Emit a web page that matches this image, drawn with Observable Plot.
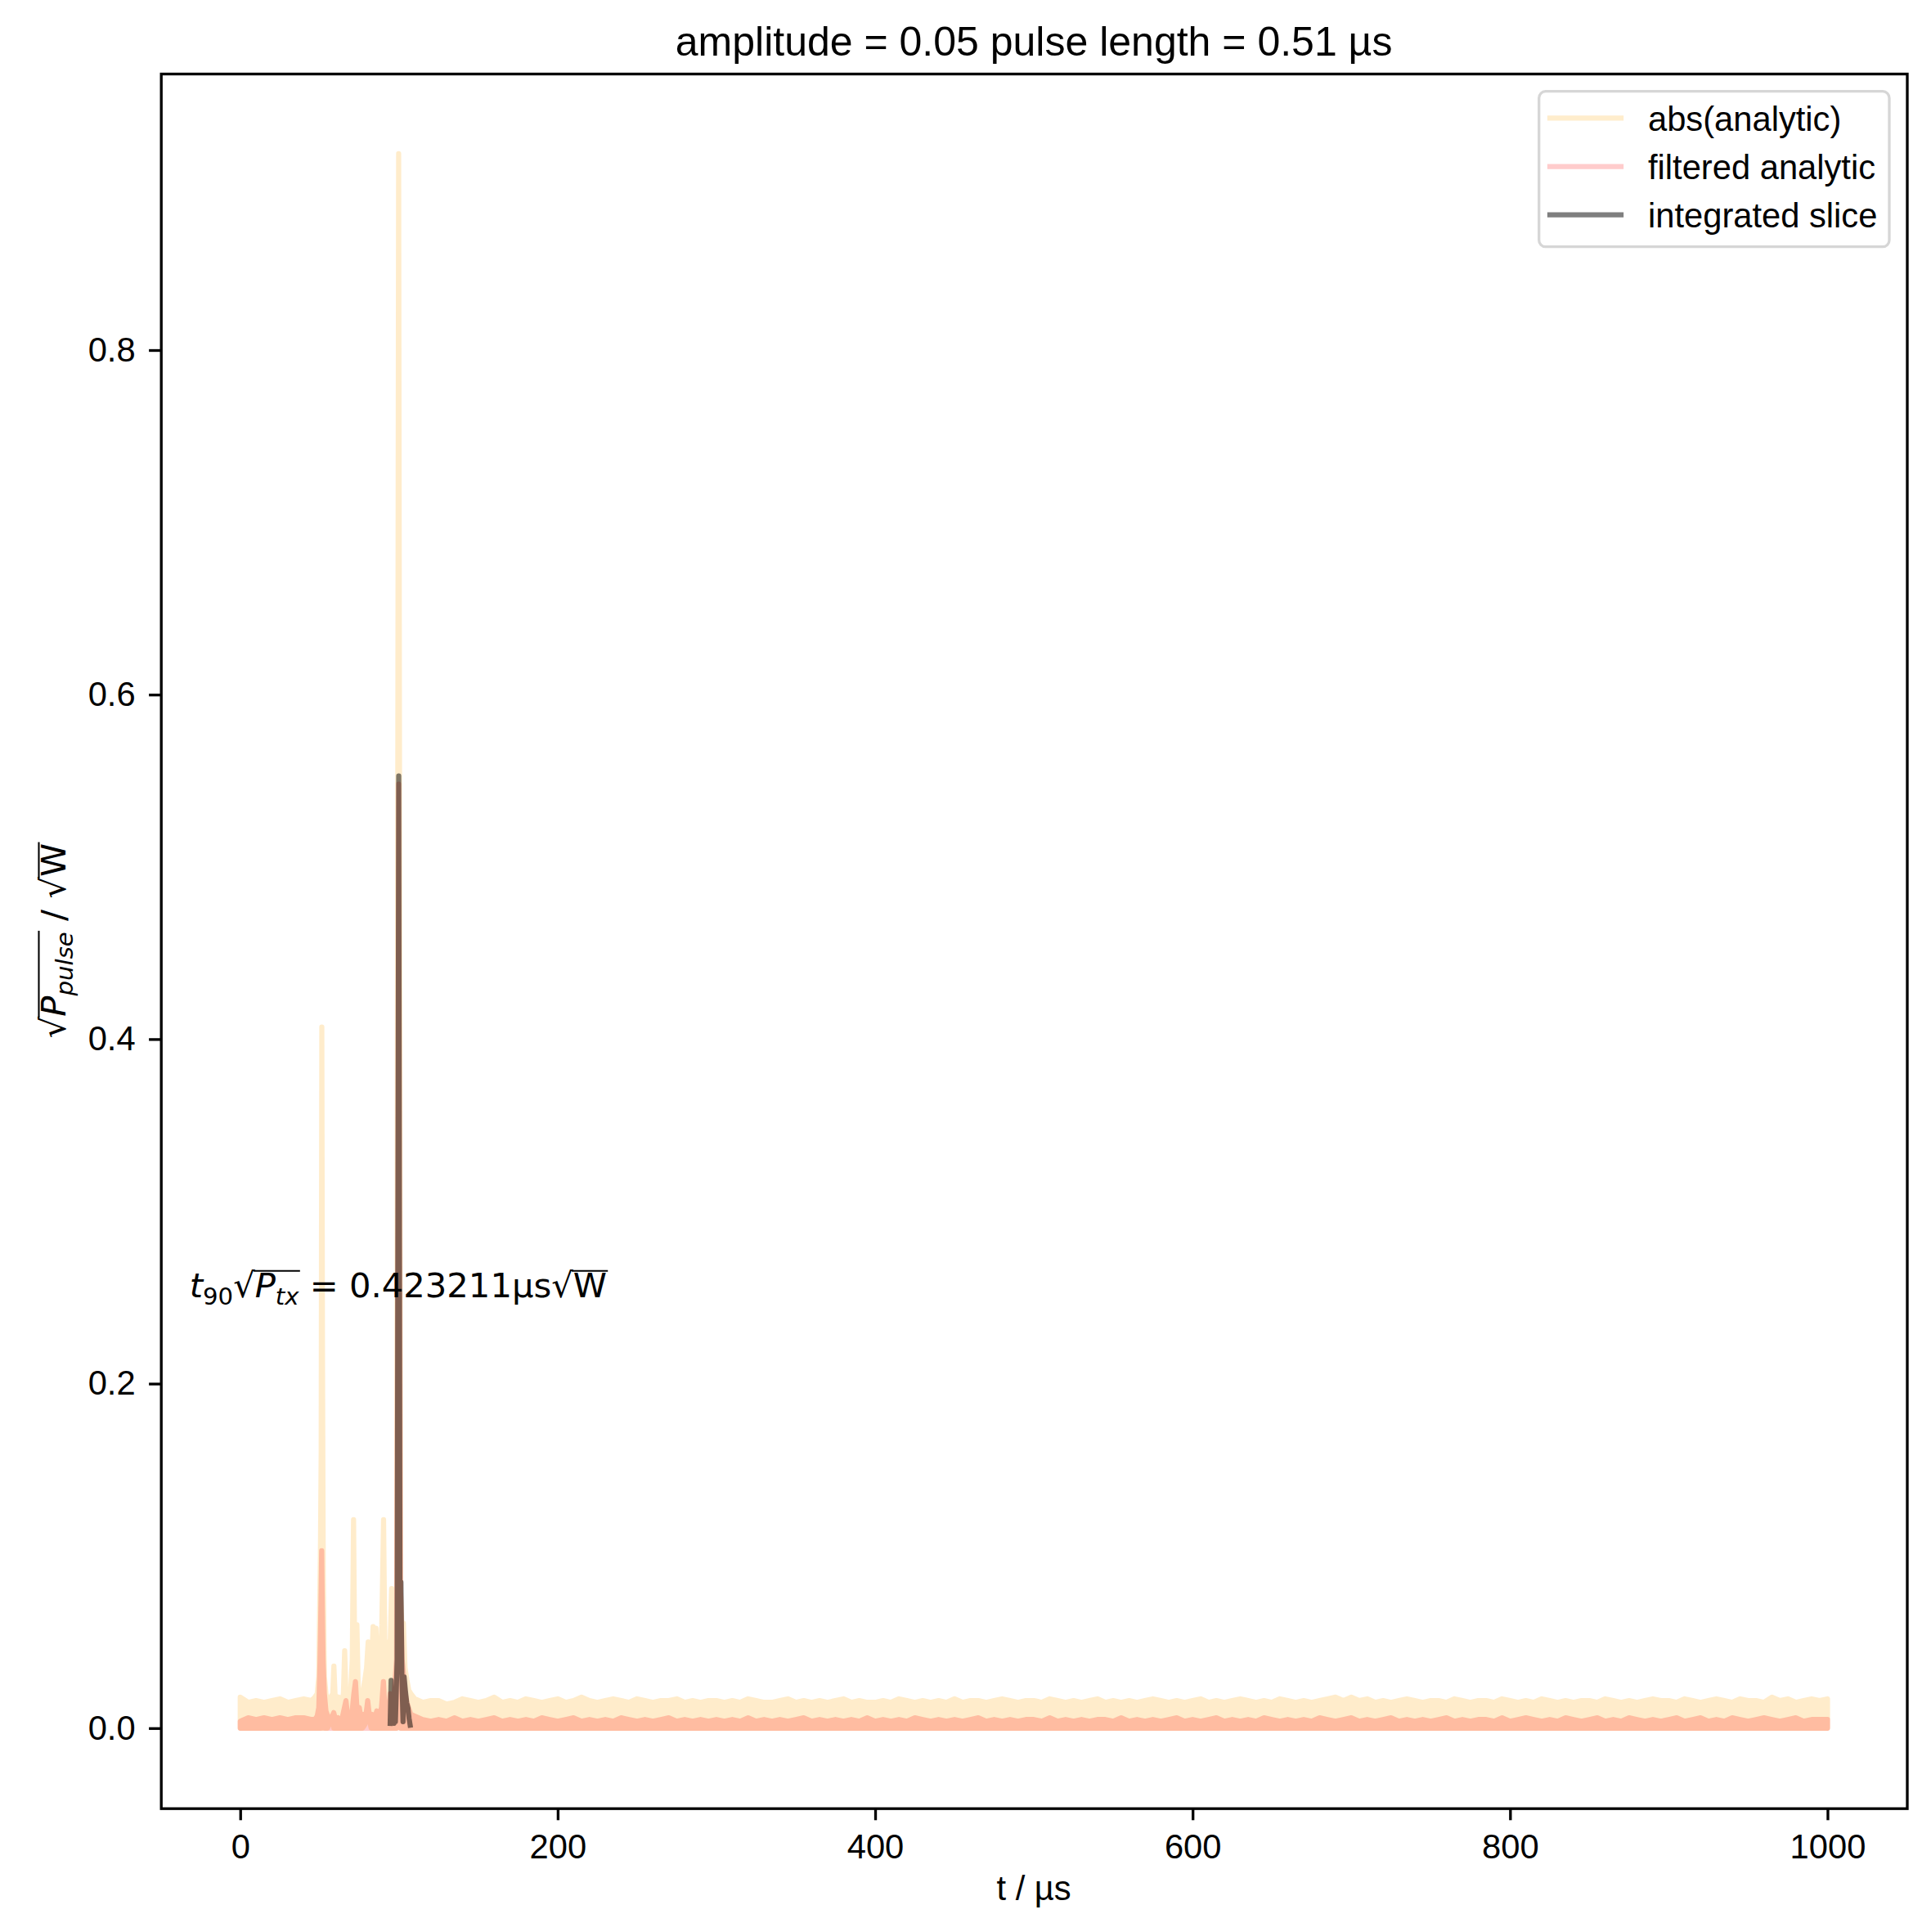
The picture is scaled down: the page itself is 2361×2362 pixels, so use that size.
<!DOCTYPE html>
<html>
<head>
<meta charset="utf-8">
<script src="https://cdn.jsdelivr.net/npm/d3@7"></script>
<script src="https://cdn.jsdelivr.net/npm/@observablehq/plot@0.6"></script>
<style>
html, body { margin: 0; padding: 0; background: #fff; }
#chart { position: relative; width: 2361px; height: 2362px; }
</style>
</head>
<body>
<div id="chart"></div>
<script>
// ---------------- data ----------------
const titleText = "amplitude = 0.05 pulse length = 0.51 µs";
const xLabelText = "t / µs";
const seriesNames = ["abs(analytic)", "filtered analytic", "integrated slice"];
const seriesColors = ["orange", "red", "black"];
const seriesAlpha = [0.2, 0.2, 0.5];
const xTicks = [0, 200, 400, 600, 800, 1000];
const yTicks = [0, 0.2, 0.4, 0.6, 0.8];
const xDomain = [-50, 1050];
const yDomain = [-0.0465, 0.9605];

// noise floor before the pulses (µs)
const preT = [0, 5, 10, 15, 20, 25, 30, 35, 40, 45];
const absPreHi = [0.018, 0.015, 0.016, 0.015, 0.016, 0.017, 0.015, 0.016, 0.017, 0.016];
const filtPreHi = [0.004, 0.006, 0.005, 0.006, 0.005, 0.006, 0.005, 0.006, 0.006, 0.005];

// pulse region of abs(analytic)
const absPulseT  = [47, 48.5, 49.5, 50.5, 51.0, 51.4, 51.8, 52.3, 53.0, 54.0, 55.0, 56.0, 57.0, 58.3, 59.0, 59.7, 60.6, 62.0, 63.5, 65.0, 65.8, 66.6, 68.0, 69.5, 70.6, 71.4, 72.2, 73.5, 74.4, 75.5, 77.0, 78.5, 79.6, 80.6, 81.5, 82.5, 83.7, 84.6, 85.5, 86.4, 87.4, 88.3, 89.2, 90.3, 91.2, 92.2, 93.3, 94.2, 95.4, 96.4, 97.4, 98.5, 99.3, 99.8, 100.3, 101.0, 101.8, 102.8, 103.8, 105.0, 106.2, 107.5];
const absPulseHi = [0.018, 0.020, 0.030, 0.100, 0.160, 0.407, 0.220, 0.090, 0.030, 0.020, 0.015, 0.012, 0.018, 0.020, 0.036, 0.020, 0.015, 0.018, 0.012, 0.020, 0.045, 0.020, 0.015, 0.020, 0.040, 0.121, 0.030, 0.060, 0.020, 0.015, 0.020, 0.028, 0.035, 0.050, 0.020, 0.030, 0.059, 0.030, 0.058, 0.035, 0.050, 0.040, 0.060, 0.121, 0.040, 0.030, 0.050, 0.040, 0.081, 0.040, 0.030, 0.060, 0.580, 0.914, 0.580, 0.080, 0.060, 0.061, 0.035, 0.028, 0.022, 0.020];
const absPulseLo = [0, 0, 0, 0, 0, 0, 0, 0, 0, 0, 0, 0.002, 0.005, 0.004, 0, 0, 0, 0, 0, 0, 0, 0, 0, 0, 0, 0, 0, 0, 0, 0, 0, 0.002, 0.006, 0.006, 0.004, 0, 0, 0, 0, 0, 0, 0, 0, 0, 0, 0, 0, 0, 0, 0, 0, 0, 0.015, 0.020, 0.015, 0, 0, 0, 0, 0, 0, 0];

// pulse region of filtered analytic
const filtPulseT  = [47, 48.5, 49.5, 50.3, 50.9, 51.3, 51.7, 52.2, 53.0, 54.0, 55.5, 57.0, 58.9, 60.0, 61.5, 63.0, 64.5, 66.6, 67.8, 69.0, 70.5, 71.6, 72.6, 73.6, 75.0, 76.0, 77.5, 79.0, 80.3, 81.5, 83.0, 84.5, 86.0, 87.5, 89.0, 90.2, 91.2, 92.5, 93.5, 94.5, 95.5, 97.0, 98.5, 99.3, 99.8, 100.3, 101.0, 102.0, 103.0, 104.0, 105.0, 106.0, 107.5];
const filtPulseHi = [0.005, 0.007, 0.012, 0.040, 0.075, 0.103, 0.070, 0.040, 0.020, 0.010, 0.006, 0.005, 0.009, 0.005, 0.006, 0.004, 0.007, 0.016, 0.006, 0.008, 0.010, 0.020, 0.027, 0.010, 0.012, 0.006, 0.008, 0.006, 0.016, 0.006, 0.008, 0.005, 0.010, 0.006, 0.012, 0.027, 0.010, 0.008, 0.010, 0.020, 0.015, 0.020, 0.040, 0.300, 0.548, 0.300, 0.080, 0.040, 0.030, 0.020, 0.015, 0.012, 0.008];
const filtPulseLo = [0, 0, 0, 0, 0, 0.004, 0.004, 0.003, 0, 0, 0, 0, 0, 0, 0, 0, 0, 0, 0, 0, 0, 0, 0, 0, 0, 0, 0, 0, 0, 0, 0, 0, 0, 0, 0, 0, 0, 0, 0, 0, 0, 0, 0, 0.015, 0.020, 0.015, 0, 0, 0, 0, 0, 0, 0];

// noise floor after the pulses (µs)
const noiseT = [110, 115, 120, 125, 130, 135, 140, 145, 150, 155, 160, 165, 170, 175, 180, 185, 190, 195,
  200, 205, 210, 215, 220, 225, 230, 235, 240, 245, 250, 255, 260, 265, 270, 275, 280, 285, 290, 295,
  300, 305, 310, 315, 320, 325, 330, 335, 340, 345, 350, 355, 360, 365, 370, 375, 380, 385, 390, 395,
  400, 405, 410, 415, 420, 425, 430, 435, 440, 445, 450, 455, 460, 465, 470, 475, 480, 485, 490, 495,
  500, 505, 510, 515, 520, 525, 530, 535, 540, 545, 550, 555, 560, 565, 570, 575, 580, 585, 590, 595,
  600, 605, 610, 615, 620, 625, 630, 635, 640, 645, 650, 655, 660, 665, 670, 675, 680, 685, 690, 695,
  700, 705, 710, 715, 720, 725, 730, 735, 740, 745, 750, 755, 760, 765, 770, 775, 780, 785, 790, 795,
  800, 805, 810, 815, 820, 825, 830, 835, 840, 845, 850, 855, 860, 865, 870, 875, 880, 885, 890, 895,
  900, 905, 910, 915, 920, 925, 930, 935, 940, 945, 950, 955, 960, 965, 970, 975, 980, 985, 990, 995, 1000];
const absNoiseHi = [0.017, 0.015, 0.016, 0.016, 0.014, 0.015, 0.017, 0.016, 0.015, 0.016, 0.018, 0.015, 0.016, 0.015, 0.017, 0.016, 0.015, 0.016,
  0.017, 0.015, 0.016, 0.018, 0.016, 0.015, 0.016, 0.017, 0.016, 0.015, 0.017, 0.016, 0.015, 0.016, 0.016, 0.017, 0.015, 0.016, 0.015, 0.016,
  0.016, 0.015, 0.016, 0.015, 0.017, 0.016, 0.015, 0.015, 0.016, 0.017, 0.015, 0.016, 0.015, 0.016, 0.015, 0.016, 0.017, 0.015, 0.016, 0.015,
  0.015, 0.016, 0.015, 0.017, 0.016, 0.015, 0.016, 0.015, 0.016, 0.015, 0.017, 0.015, 0.016, 0.016, 0.015, 0.016, 0.017, 0.016, 0.015, 0.016,
  0.016, 0.015, 0.017, 0.016, 0.015, 0.016, 0.015, 0.016, 0.017, 0.015, 0.016, 0.015, 0.016, 0.015, 0.016, 0.017, 0.016, 0.015, 0.016, 0.015,
  0.016, 0.017, 0.015, 0.016, 0.015, 0.016, 0.017, 0.016, 0.015, 0.016, 0.015, 0.017, 0.016, 0.015, 0.016, 0.015, 0.016, 0.017, 0.018, 0.016,
  0.018, 0.016, 0.017, 0.015, 0.016, 0.015, 0.016, 0.017, 0.016, 0.015, 0.016, 0.016, 0.015, 0.017, 0.016, 0.015, 0.016, 0.016, 0.015, 0.017,
  0.016, 0.015, 0.016, 0.015, 0.017, 0.016, 0.015, 0.016, 0.015, 0.016, 0.016, 0.015, 0.017, 0.016, 0.015, 0.016, 0.015, 0.016, 0.017, 0.016,
  0.016, 0.015, 0.017, 0.016, 0.015, 0.016, 0.017, 0.016, 0.015, 0.017, 0.016, 0.016, 0.015, 0.018, 0.016, 0.017, 0.015, 0.016, 0.017, 0.016, 0.017];
const filtNoiseHi = [0.007, 0.005, 0.004, 0.005, 0.004, 0.006, 0.004, 0.005, 0.004, 0.005, 0.006, 0.004, 0.005, 0.004, 0.005, 0.004, 0.006, 0.005,
  0.004, 0.005, 0.006, 0.004, 0.005, 0.004, 0.005, 0.004, 0.006, 0.005, 0.004, 0.005, 0.004, 0.005, 0.006, 0.004, 0.005, 0.004, 0.005, 0.004,
  0.005, 0.004, 0.005, 0.004, 0.006, 0.004, 0.005, 0.004, 0.005, 0.004, 0.005, 0.006, 0.004, 0.005, 0.004, 0.005, 0.004, 0.005, 0.004, 0.006,
  0.004, 0.005, 0.004, 0.005, 0.004, 0.006, 0.005, 0.004, 0.005, 0.004, 0.005, 0.004, 0.005, 0.006, 0.004, 0.005, 0.004, 0.005, 0.004, 0.005,
  0.005, 0.004, 0.006, 0.004, 0.005, 0.004, 0.005, 0.004, 0.005, 0.005, 0.004, 0.006, 0.004, 0.005, 0.004, 0.005, 0.004, 0.005, 0.006, 0.004,
  0.005, 0.004, 0.005, 0.006, 0.004, 0.005, 0.004, 0.005, 0.004, 0.006, 0.005, 0.004, 0.005, 0.004, 0.005, 0.004, 0.006, 0.005, 0.004, 0.005,
  0.006, 0.004, 0.005, 0.004, 0.005, 0.006, 0.004, 0.005, 0.004, 0.005, 0.004, 0.005, 0.006, 0.004, 0.005, 0.004, 0.005, 0.005, 0.004, 0.006,
  0.004, 0.005, 0.006, 0.005, 0.004, 0.005, 0.004, 0.006, 0.005, 0.004, 0.005, 0.006, 0.004, 0.005, 0.004, 0.006, 0.005, 0.004, 0.005, 0.004,
  0.005, 0.006, 0.004, 0.005, 0.006, 0.004, 0.005, 0.004, 0.006, 0.005, 0.004, 0.005, 0.006, 0.005, 0.004, 0.005, 0.006, 0.004, 0.005, 0.005, 0.005];

// integrated slice
const sliceT = [94.2, 94.8, 95.4, 96.0, 96.6, 97.1, 97.5, 98.6, 99.6, 100.4, 101.0, 101.6, 102.3, 103.0, 103.8, 104.6, 105.4, 106.1, 106.8];
const sliceV = [0.003, 0.028, 0.004, 0.020, 0.003, 0.018, 0.004, 0.040, 0.553, 0.050, 0.085, 0.030, 0.004, 0.030, 0.022, 0.015, 0.012, 0.006, 0.002];

// annotation
const annotT = -32;
const annotV = 0.25;
const annotValue = "0.423211";

// ---------------- tables ----------------
function bandTable(preHi, pulseT, pulseHi, pulseLo, noiseHi) {
  return [
    ...preT.map((t, i) => ({t, lo: 0, hi: preHi[i]})),
    ...pulseT.map((t, i) => ({t, lo: pulseLo[i], hi: pulseHi[i]})),
    ...noiseT.map((t, i) => ({t, lo: 0, hi: noiseHi[i]}))
  ];
}
const absData = bandTable(absPreHi, absPulseT, absPulseHi, absPulseLo, absNoiseHi);
const filtData = bandTable(filtPreHi, filtPulseT, filtPulseHi, filtPulseLo, filtNoiseHi);
const sliceData = sliceT.map((t, i) => ({t, v: sliceV[i]}));

// ---------------- plot ----------------
const W = 2361, H = 2362;
const LW = 6.25;      // 1.5pt line
const AXW = 3.33;     // 0.8pt spine
const FS = 41.7;      // 10pt
const ML = 196.7, MR = 29.5, MT = 90, MB = 151.3;
const CX = (ML + (W - MR)) / 2;
const plot = Plot.plot({
  width: W, height: H,
  marginLeft: ML, marginRight: MR, marginTop: MT, marginBottom: MB,
  style: {fontFamily: "'Liberation Sans', Arial, sans-serif", fontSize: FS + "px", color: "#000", background: "#fff", overflow: "visible"},
  x: {domain: xDomain},
  y: {domain: yDomain},
  marks: [
    Plot.areaY(absData, {x: "t", y1: "lo", y2: "hi", fill: seriesColors[0], stroke: seriesColors[0], strokeWidth: LW, strokeLinejoin: "round", opacity: seriesAlpha[0]}),
    Plot.areaY(filtData, {x: "t", y1: "lo", y2: "hi", fill: seriesColors[1], stroke: seriesColors[1], strokeWidth: LW, strokeLinejoin: "round", opacity: seriesAlpha[1]}),
    Plot.line(sliceData, {x: "t", y: "v", stroke: seriesColors[2], strokeWidth: LW, strokeOpacity: seriesAlpha[2], strokeLinejoin: "round", strokeLinecap: "square"}),
    Plot.frame({stroke: "#000", strokeWidth: AXW}),
    Plot.axisX(xTicks, {tickSize: 14.6, tickPadding: 16.4, strokeWidth: AXW, label: null, fontSize: FS, tickFormat: d3.format("d")}),
    Plot.axisY(yTicks, {tickSize: 14.6, tickPadding: 17, strokeWidth: AXW, label: null, fontSize: FS, tickFormat: d3.format(".1f")})
  ]
});
document.getElementById("chart").appendChild(plot);
const svg = d3.select(plot);
const xs = plot.scale("x"), ys = plot.scale("y");

// ---------------- text helpers ----------------
function mathText({x, y, rotate = 0, anchor = "start", size, parts}) {
  const g = svg.append("g").attr("transform", `translate(${x},${y}) rotate(${rotate})`);
  const text = g.append("text")
    .attr("text-anchor", anchor)
    .attr("font-family", "'DejaVu Sans', sans-serif")
    .attr("font-size", size)
    .attr("fill", "#000")
    .style("white-space", "pre");
  let shift = 0, idx = 0;
  const groups = {};
  parts.forEach(p => {
    const target = p.sub ? size * 0.22 : 0;
    const ts = text.append("tspan").text(p.text).attr("dy", target - shift);
    shift = target;
    if (p.sub) ts.attr("font-size", size * 0.7);
    if (p.italic) ts.attr("font-style", "italic");
    if (p.font) ts.attr("font-family", p.font);
    if (p.over != null) {
      const gr = groups[p.over] || (groups[p.over] = {start: idx, end: idx});
      gr.end = idx + p.text.length - 1;
    }
    idx += p.text.length;
  });
  const node = text.node();
  Object.values(groups).forEach(gr => {
    const x1 = node.getEndPositionOfChar(gr.start - 1).x - size * 0.04;
    const x2 = node.getEndPositionOfChar(gr.end).x + size * 0.03;
    const yy = -size * 0.78;
    g.append("line").attr("x1", x1).attr("x2", x2).attr("y1", yy).attr("y2", yy)
      .attr("stroke", "#000").attr("stroke-width", size * 0.05);
  });
}

// title
svg.append("text").attr("x", CX).attr("y", 68).attr("text-anchor", "middle")
  .attr("font-size", 50).attr("fill", "#000").text(titleText);
// x label
svg.append("text").attr("x", CX).attr("y", 2323).attr("text-anchor", "middle")
  .attr("font-size", FS).attr("fill", "#000").text(xLabelText);
// y label
mathText({x: 80, y: 1150, rotate: -90, anchor: "middle", size: FS, parts: [
  {text: "√"}, {text: "P", italic: true, over: 1}, {text: "pulse", italic: true, sub: true, over: 1},
  {text: " / "}, {text: "√"}, {text: "W", over: 2}
]});
// annotation
mathText({x: xs.apply(annotT), y: ys.apply(annotV), anchor: "start", size: FS, parts: [
  {text: "t", italic: true}, {text: "90", sub: true}, {text: "√"},
  {text: "P", italic: true, over: 1}, {text: "tx", italic: true, sub: true, over: 1},
  {text: " = " + annotValue + "µs"}, {text: "√"}, {text: "W", over: 2}
]});

// legend
const lg = svg.append("g");
lg.append("rect").attr("x", 1881.7).attr("y", 111.7).attr("width", 428.3).attr("height", 190)
  .attr("rx", 8).attr("fill", "#fff").attr("fill-opacity", 0.8)
  .attr("stroke", "#cccccc").attr("stroke-opacity", 0.8).attr("stroke-width", 3.3);
seriesNames.forEach((name, i) => {
  const yy = 144.3 + i * 59.2;
  lg.append("line").attr("x1", 1895).attr("x2", 1982).attr("y1", yy).attr("y2", yy)
    .attr("stroke", seriesColors[i]).attr("stroke-opacity", seriesAlpha[i])
    .attr("stroke-width", LW).attr("stroke-linecap", "square");
  lg.append("text").attr("x", 2015).attr("y", yy + 15.5).attr("font-size", FS)
    .attr("text-anchor", "start").attr("fill", "#000").text(name);
});
</script>
</body>
</html>
